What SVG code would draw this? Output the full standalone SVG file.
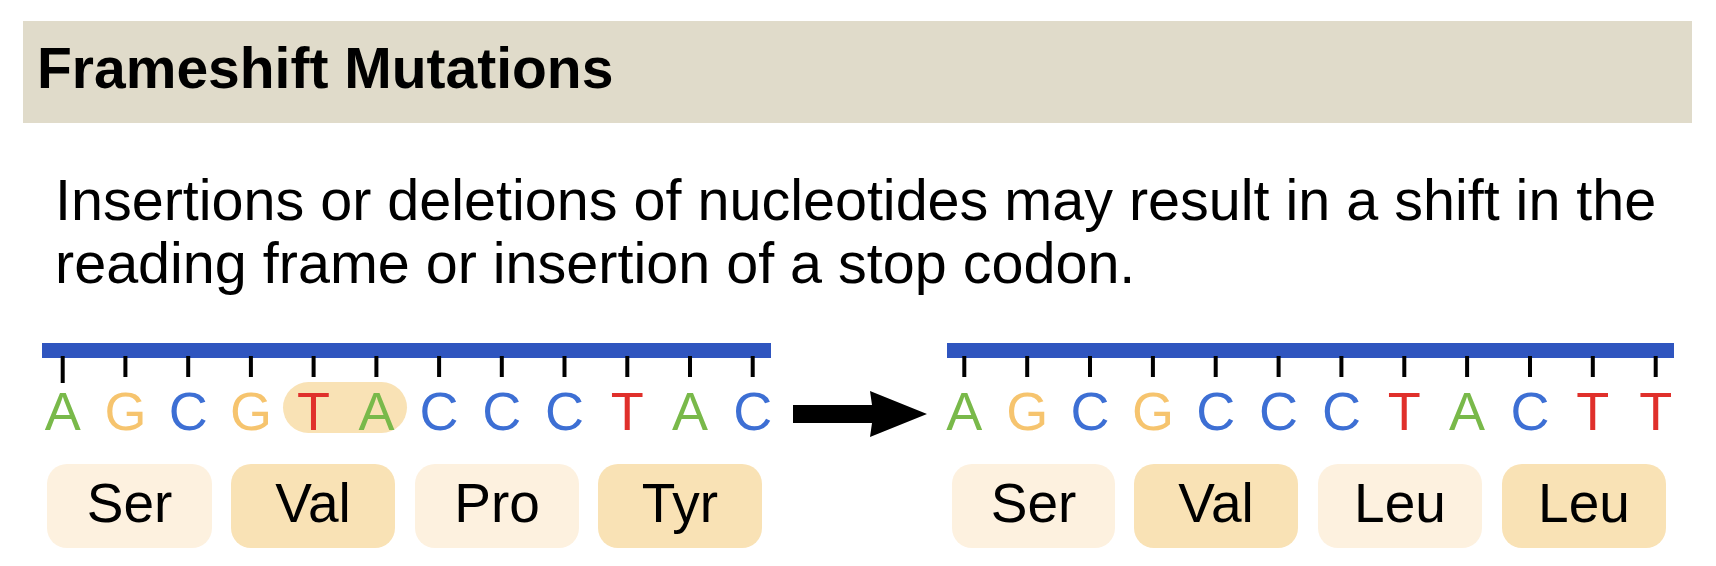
<svg xmlns="http://www.w3.org/2000/svg" width="1716" height="566" viewBox="0 0 1716 566">
<style>
text{font-family:"Liberation Sans",Arial,sans-serif}
.title{font-size:57px;font-weight:bold;fill:#000}
.body{font-size:57.5px;fill:#000}
.nt{font-size:54px;text-anchor:middle}
.A{fill:#79b94a}.G{fill:#f6c46e}.C{fill:#3d6fd4}.T{fill:#e0302b}
.bar{fill:#2f55bf}
.tick{stroke:#000;stroke-width:4}
.aa{font-size:55px;text-anchor:middle;fill:#000}
.light{fill:#fdf1df}.dark{fill:#f9e2b5}
</style>
<rect width="1716" height="566" fill="#fff"/>
<g id="header">
<rect x="23" y="21" width="1669" height="102" fill="#e0dbca"/>
<text class="title" x="37" y="88">Frameshift Mutations</text>
</g>
<g id="description">
<text class="body" x="55" y="220">Insertions or deletions of nucleotides may result in a shift in the</text>
<text class="body" x="55" y="283">reading frame or insertion of a stop codon.</text>
</g>
<g id="original-strand">
<rect class="bar" x="42" y="343" width="729" height="15"/>
<g>
<line class="tick" x1="62.7" y1="356" x2="62.7" y2="383"/>
<line class="tick" x1="125.4" y1="356" x2="125.4" y2="377"/>
<line class="tick" x1="188.2" y1="356" x2="188.2" y2="377"/>
<line class="tick" x1="250.9" y1="356" x2="250.9" y2="377"/>
<line class="tick" x1="313.6" y1="356" x2="313.6" y2="377"/>
<line class="tick" x1="376.4" y1="356" x2="376.4" y2="377"/>
<line class="tick" x1="439.1" y1="356" x2="439.1" y2="377"/>
<line class="tick" x1="501.8" y1="356" x2="501.8" y2="377"/>
<line class="tick" x1="564.5" y1="356" x2="564.5" y2="377"/>
<line class="tick" x1="627.3" y1="356" x2="627.3" y2="377"/>
<line class="tick" x1="690.0" y1="356" x2="690.0" y2="377"/>
<line class="tick" x1="752.7" y1="356" x2="752.7" y2="377"/>
</g>
<rect class="dark" x="283" y="382" width="124" height="51" rx="25.5"/>
<text class="nt A" x="62.7" y="430">A</text>
<text class="nt G" x="125.4" y="430">G</text>
<text class="nt C" x="188.2" y="430">C</text>
<text class="nt G" x="250.9" y="430">G</text>
<text class="nt T" x="313.6" y="430">T</text>
<text class="nt A" x="376.4" y="430">A</text>
<text class="nt C" x="439.1" y="430">C</text>
<text class="nt C" x="501.8" y="430">C</text>
<text class="nt C" x="564.5" y="430">C</text>
<text class="nt T" x="627.3" y="430">T</text>
<text class="nt A" x="690.0" y="430">A</text>
<text class="nt C" x="752.7" y="430">C</text>
</g>
<g id="aa-ser-1"><rect class="light" x="47" y="464" width="165" height="84" rx="20"/><text class="aa" x="129.5" y="522">Ser</text></g>
<g id="aa-val-1"><rect class="dark" x="231" y="464" width="164" height="84" rx="20"/><text class="aa" x="313" y="522">Val</text></g>
<g id="aa-pro-1"><rect class="light" x="415" y="464" width="164" height="84" rx="20"/><text class="aa" x="497" y="522">Pro</text></g>
<g id="aa-tyr-1"><rect class="dark" x="598" y="464" width="164" height="84" rx="20"/><text class="aa" x="680" y="522">Tyr</text></g>
<g id="connectors">
<polygon points="793,405 872,405 870,391 927,414 870,437 872,423 793,423" fill="#000"/>
</g>
<g id="mutated-strand">
<rect class="bar" x="947" y="343" width="727" height="15"/>
<g>
<line class="tick" x1="964.3" y1="356" x2="964.3" y2="377"/>
<line class="tick" x1="1027.2" y1="356" x2="1027.2" y2="377"/>
<line class="tick" x1="1090.0" y1="356" x2="1090.0" y2="377"/>
<line class="tick" x1="1152.9" y1="356" x2="1152.9" y2="377"/>
<line class="tick" x1="1215.7" y1="356" x2="1215.7" y2="377"/>
<line class="tick" x1="1278.6" y1="356" x2="1278.6" y2="377"/>
<line class="tick" x1="1341.4" y1="356" x2="1341.4" y2="377"/>
<line class="tick" x1="1404.3" y1="356" x2="1404.3" y2="377"/>
<line class="tick" x1="1467.1" y1="356" x2="1467.1" y2="377"/>
<line class="tick" x1="1530.0" y1="356" x2="1530.0" y2="377"/>
<line class="tick" x1="1592.8" y1="356" x2="1592.8" y2="377"/>
<line class="tick" x1="1655.7" y1="356" x2="1655.7" y2="377"/>
</g>
<text class="nt A" x="964.3" y="430">A</text>
<text class="nt G" x="1027.2" y="430">G</text>
<text class="nt C" x="1090.0" y="430">C</text>
<text class="nt G" x="1152.9" y="430">G</text>
<text class="nt C" x="1215.7" y="430">C</text>
<text class="nt C" x="1278.6" y="430">C</text>
<text class="nt C" x="1341.4" y="430">C</text>
<text class="nt T" x="1404.3" y="430">T</text>
<text class="nt A" x="1467.1" y="430">A</text>
<text class="nt C" x="1530.0" y="430">C</text>
<text class="nt T" x="1592.8" y="430">T</text>
<text class="nt T" x="1655.7" y="430">T</text>
</g>
<g id="aa-ser-2"><rect class="light" x="952" y="464" width="163" height="84" rx="20"/><text class="aa" x="1033.5" y="522">Ser</text></g>
<g id="aa-val-2"><rect class="dark" x="1134" y="464" width="164" height="84" rx="20"/><text class="aa" x="1216" y="522">Val</text></g>
<g id="aa-leu-1"><rect class="light" x="1318" y="464" width="164" height="84" rx="20"/><text class="aa" x="1400" y="522">Leu</text></g>
<g id="aa-leu-2"><rect class="dark" x="1502" y="464" width="164" height="84" rx="20"/><text class="aa" x="1584" y="522">Leu</text></g>
</svg>
